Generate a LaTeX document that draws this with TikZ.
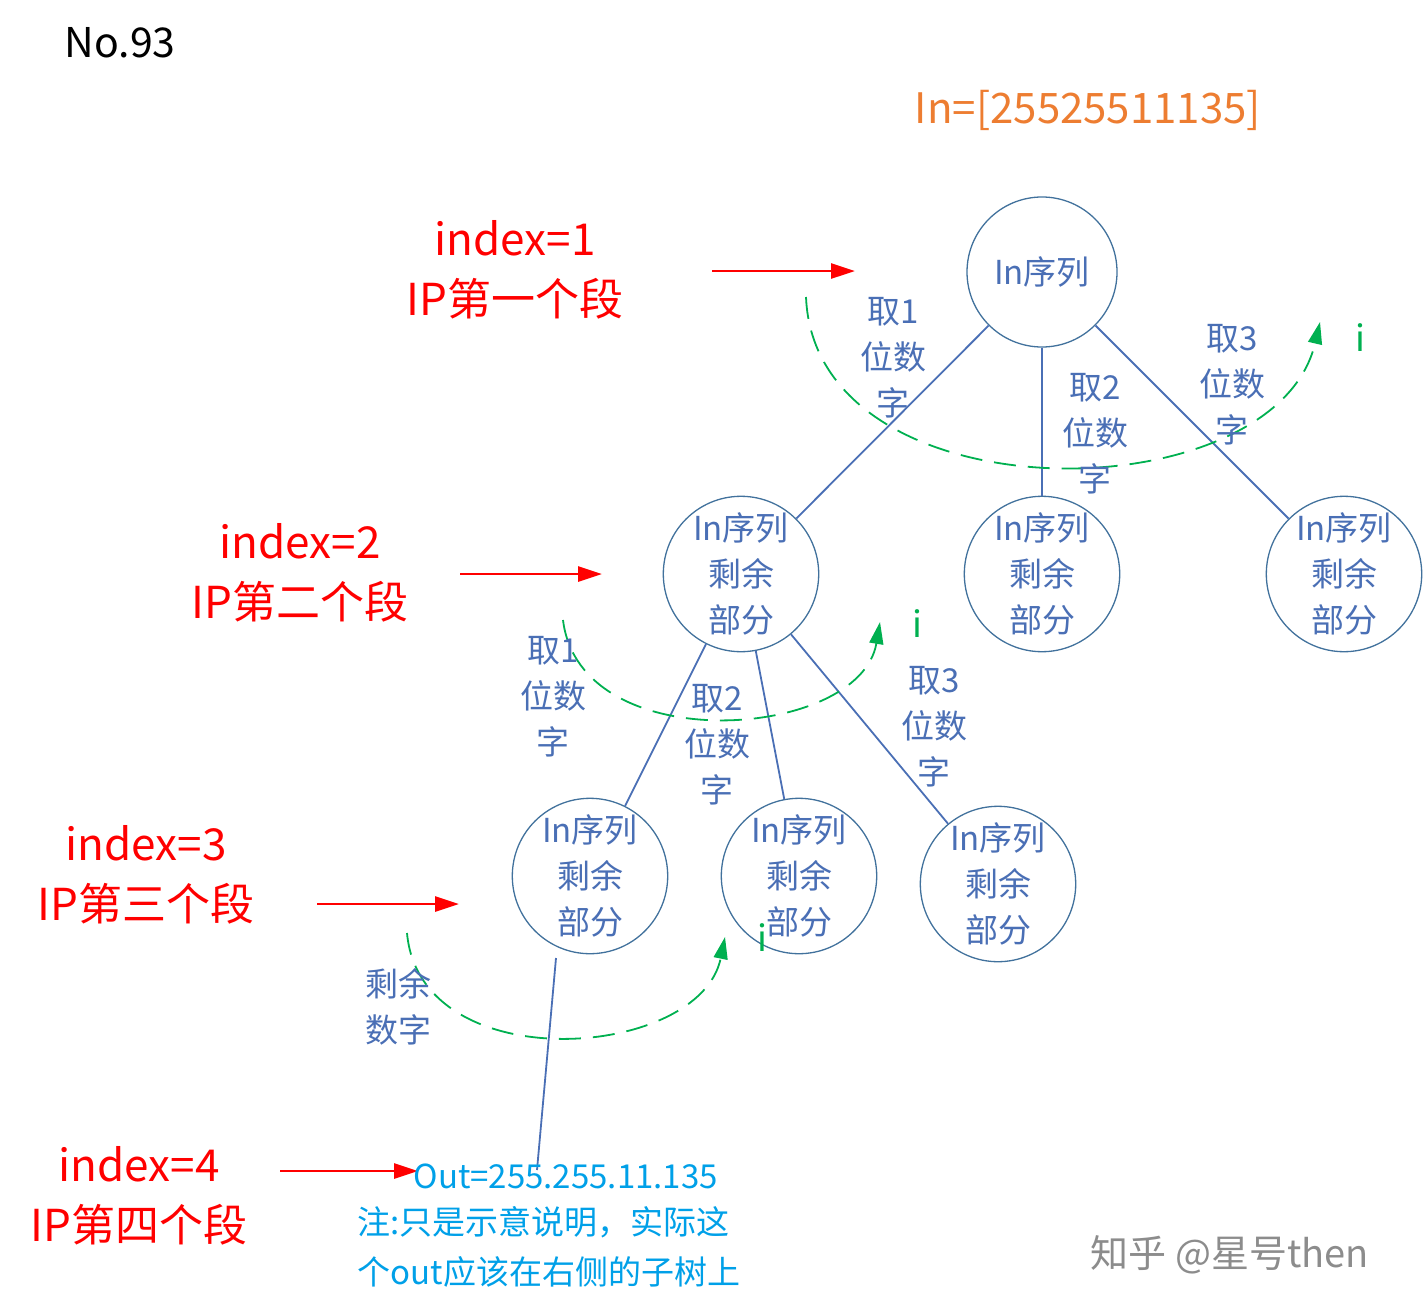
\documentclass[tikz,border=0pt]{standalone}
\usepackage{fontspec}
\setmainfont{Noto Sans CJK SC}
\usetikzlibrary{arrows.meta}
\definecolor{nodeblue}{HTML}{41719C}
\definecolor{lblue}{HTML}{4A6FB5}
\definecolor{ired}{HTML}{FF0000}
\definecolor{igreen}{HTML}{00B050}
\definecolor{icyan}{HTML}{00A0E8}
\definecolor{iorange}{HTML}{ED7D31}
\tikzset{
 circ/.style={circle,draw=nodeblue,line width=1.3pt,minimum size=150pt,inner sep=0pt,align=center,text=lblue,font=\fontsize{33}{46}\selectfont},
 edge/.style={draw=lblue,line width=1.8pt},
 lbl/.style={text=lblue,align=center,font=\fontsize{33}{46}\selectfont},
 redlbl/.style={text=ired,align=center,font=\fontsize{44}{60}\selectfont},
 redarr/.style={draw=ired,line width=2.8pt,-{Triangle[length=24pt,width=15pt]}},
 grarc/.style={draw=igreen,line width=1.8pt,dash pattern=on 22pt off 12pt,-{Triangle[length=22pt,width=14pt]}},
 gri/.style={text=igreen,font=\fontsize{36}{40}\selectfont},
 cyantxt/.style={text=icyan,anchor=west,font=\fontsize{33}{40}\selectfont},
}
\begin{document}
\begin{tikzpicture}[x=1pt,y=-1pt]
\useasboundingbox (0,0) rectangle (1423,1314);
\node[anchor=center,font=\fontsize{41}{40}\selectfont] (no) at (120,43) {No.93};
\node[text=iorange,font=\fontsize{42}{40}\selectfont] (in) at (1088,110) {In=[25525511135]};
\node[circ] (r) at (1042,272) {In序列};
\node[circ] (a) at (741,574) {In序列\\剩余\\部分};
\node[circ] (b) at (1042,574) {In序列\\剩余\\部分};
\node[circ] (c) at (1344,574) {In序列\\剩余\\部分};
\node[circ] (d) at (590,876) {In序列\\剩余\\部分};
\node[circ] (e) at (799,876) {In序列\\剩余\\部分};
\node[circ] (f) at (998,884) {In序列\\剩余\\部分};
\draw[edge] (r) -- (a); \draw[edge] (r) -- (b); \draw[edge] (r) -- (c);
\draw[edge] (a) -- (d); \draw[edge] (a) -- (e); \draw[edge] (a) -- (f);
\coordinate (dtop) at (556,958); \coordinate (outend) at (537,1170);
\draw[edge] (dtop) -- (outend);
% red labels
\node[redlbl] (i1) at (515,270) {index=1\\IP第一个段};
\node[redlbl] (i2) at (300,573) {index=2\\IP第二个段};
\node[redlbl] (i3) at (146,875) {index=3\\IP第三个段};
\node[redlbl] (i4) at (139,1196) {index=4\\IP第四个段};
\coordinate (s1) at (712,271); \coordinate (e1) at (855,271);
\coordinate (s2) at (460,574); \coordinate (e2) at (602,574);
\coordinate (s3) at (317,904); \coordinate (e3) at (459,904);
\coordinate (s4) at (280,1171); \coordinate (e4) at (418,1171);
\draw[redarr] (s1) -- (e1); \draw[redarr] (s2) -- (e2);
\draw[redarr] (s3) -- (e3); \draw[redarr] (s4) -- (e4);
% green arcs
\coordinate (g1s) at (806,297); \coordinate (g1e) at (1320,322);
\draw[grarc] (g1s) .. controls (815,520) and (1275,515) .. (g1e);
\coordinate (g2s) at (563,620); \coordinate (g2e) at (880,622);
\draw[grarc] (g2s) .. controls (580,760) and (860,740) .. (g2e);
\coordinate (g3s) at (407,933); \coordinate (g3e) at (725,937);
\draw[grarc] (g3s) .. controls (420,1080) and (700,1060) .. (g3e);
\node[gri] (gi1) at (1360,338) {i};
\node[gri] (gi2) at (917,624) {i};
\node[gri] (gi3) at (762,938) {i};
% blue labels
\node[lbl] (l1) at (893,358) {取1\\位数\\字};
\node[lbl] (l2) at (1095,434) {取2\\位数\\字};
\node[lbl] (l3) at (1232,385) {取3\\位数\\字};
\node[lbl] (l4) at (553,697) {取1\\位数\\字};
\node[lbl] (l5) at (717,745) {取2\\位数\\字};
\node[lbl] (l6) at (934,727) {取3\\位数\\字};
\node[lbl] (l7) at (398,1007) {剩余\\数字};
% cyan
\node[cyantxt] (o1) at (410,1176) {Out=255.255.11.135};
\node[cyantxt] (o2) at (354,1222) {注:只是示意说明，实际这};
\node[cyantxt] (o3) at (354,1272) {个out应该在右侧的子树上};
\node[text=black!45,font=\fontsize{38}{40}\selectfont] (wm) at (1230,1255) {知乎 @星号then};
\end{tikzpicture}
\end{document}
